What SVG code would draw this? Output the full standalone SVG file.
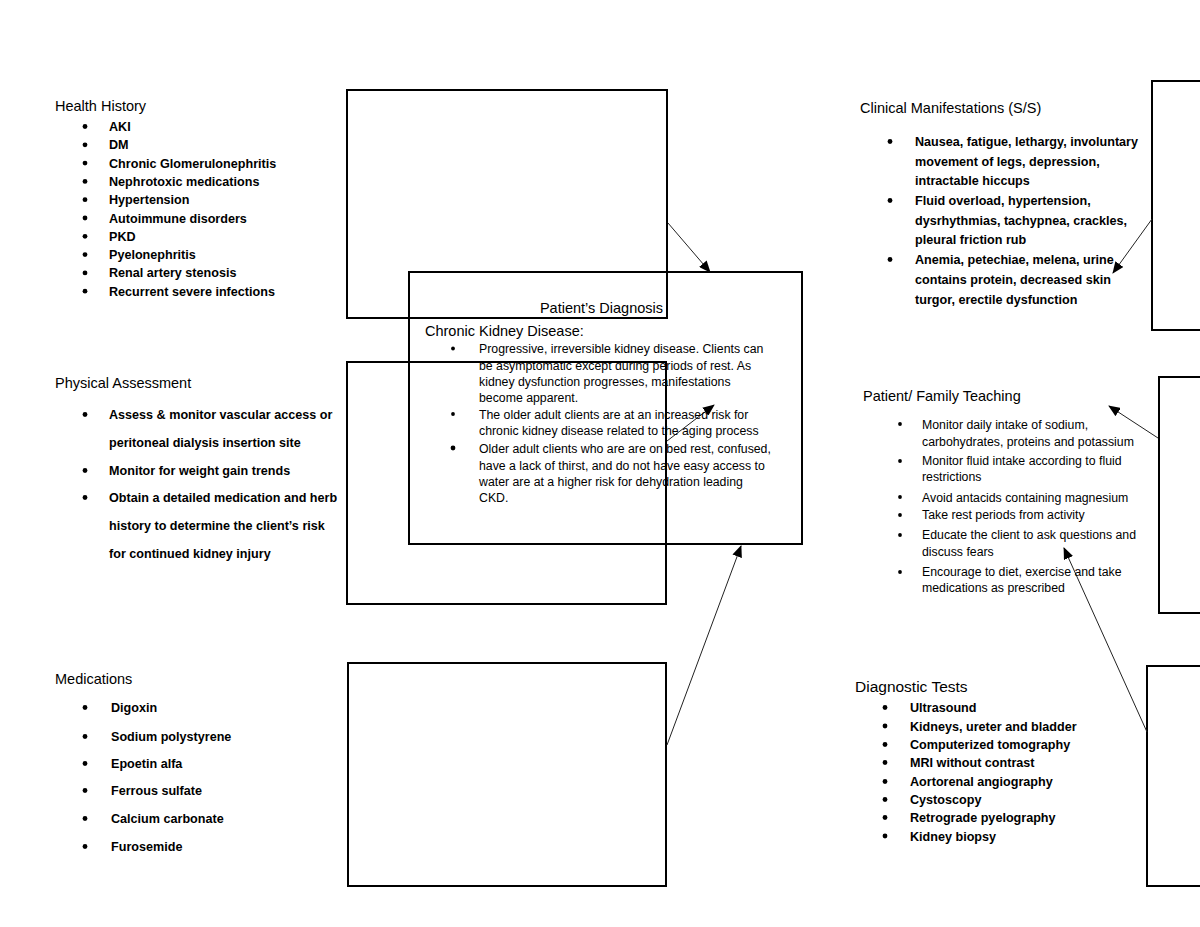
<svg xmlns="http://www.w3.org/2000/svg" width="1200" height="927" viewBox="0 0 1200 927">
<style>
text{font-family:"Liberation Sans",Arial,sans-serif;fill:#000}
.h{font-size:14.5px}
.b{font-size:12.6px;font-weight:bold}
.r{font-size:12.3px}
.box{fill:none;stroke:#000;stroke-width:2}
.con{fill:none;stroke:#222;stroke-width:1}
.bul{fill:#000}
</style>
<defs>
<marker id="ah" markerWidth="12" markerHeight="10" refX="11" refY="5" orient="auto" markerUnits="userSpaceOnUse">
<path d="M0,0 L12,5 L0,10 Z" fill="#000"/>
</marker>
</defs>
<rect width="1200" height="927" fill="#fff"/>

<g id="boxes">
<rect id="box-history" class="box" x="347" y="90" width="320" height="228"/>
<rect id="box-physical" class="box" x="347" y="362" width="319" height="242"/>
<rect id="box-meds" class="box" x="348" y="663" width="318" height="223"/>
<rect id="box-diagnosis" class="box" x="409" y="272" width="393" height="272"/>
<rect id="box-clinical" class="box" x="1152" y="81" width="60" height="249"/>
<rect id="box-teaching" class="box" x="1159" y="377" width="60" height="236"/>
<rect id="box-tests" class="box" x="1147" y="666" width="60" height="220"/>
</g>

<g id="connectors">
<line class="con" x1="668" y1="223" x2="710" y2="272" marker-end="url(#ah)"/>
<line class="con" x1="667" y1="745" x2="741" y2="546" marker-end="url(#ah)"/>
<line class="con" x1="667" y1="441" x2="714" y2="405" marker-end="url(#ah)"/>
<line class="con" x1="1152" y1="219" x2="1113" y2="273" marker-end="url(#ah)"/>
<line class="con" x1="1158" y1="438" x2="1109" y2="406" marker-end="url(#ah)"/>
<line class="con" x1="1147" y1="732" x2="1064" y2="548" marker-end="url(#ah)"/>
</g>

<g id="health-history">
<text class="h" x="55" y="111">Health History</text>
<g class="bul">
<circle cx="85" cy="126.5" r="2.4"/><circle cx="85" cy="144.8" r="2.4"/><circle cx="85" cy="163.1" r="2.4"/><circle cx="85" cy="181.4" r="2.4"/><circle cx="85" cy="199.7" r="2.4"/><circle cx="85" cy="218" r="2.4"/><circle cx="85" cy="236.3" r="2.4"/><circle cx="85" cy="254.6" r="2.4"/><circle cx="85" cy="272.9" r="2.4"/><circle cx="85" cy="291.2" r="2.4"/>
</g>
<text class="b" x="109" y="131">AKI</text>
<text class="b" x="109" y="149.3">DM</text>
<text class="b" x="109" y="167.6">Chronic Glomerulonephritis</text>
<text class="b" x="109" y="185.9">Nephrotoxic medications</text>
<text class="b" x="109" y="204.2">Hypertension</text>
<text class="b" x="109" y="222.5">Autoimmune disorders</text>
<text class="b" x="109" y="240.8">PKD</text>
<text class="b" x="109" y="259.1">Pyelonephritis</text>
<text class="b" x="109" y="277.4">Renal artery stenosis</text>
<text class="b" x="109" y="295.7">Recurrent severe infections</text>
</g>

<g id="physical-assessment">
<text class="h" x="55" y="388">Physical Assessment</text>
<g class="bul"><circle cx="85" cy="414.5" r="2.4"/><circle cx="85" cy="470.5" r="2.4"/><circle cx="85" cy="497.5" r="2.4"/></g>
<text class="b" x="109" y="419">Assess &amp; monitor vascular access or</text>
<text class="b" x="109" y="447">peritoneal dialysis insertion site</text>
<text class="b" x="109" y="475">Monitor for weight gain trends</text>
<text class="b" x="109" y="502">Obtain a detailed medication and herb</text>
<text class="b" x="109" y="530">history to determine the client’s risk</text>
<text class="b" x="109" y="558">for continued kidney injury</text>
</g>

<g id="medications">
<text class="h" x="55" y="684">Medications</text>
<g class="bul"><circle cx="85" cy="707.5" r="2.4"/><circle cx="85" cy="736.5" r="2.4"/><circle cx="85" cy="763.5" r="2.4"/><circle cx="85" cy="790.5" r="2.4"/><circle cx="85" cy="818.5" r="2.4"/><circle cx="85" cy="846.5" r="2.4"/></g>
<text class="b" x="111" y="712">Digoxin</text>
<text class="b" x="111" y="741">Sodium polystyrene</text>
<text class="b" x="111" y="768">Epoetin alfa</text>
<text class="b" x="111" y="795">Ferrous sulfate</text>
<text class="b" x="111" y="823">Calcium carbonate</text>
<text class="b" x="111" y="851">Furosemide</text>
</g>

<g id="diagnosis">
<text class="h" x="663" y="313" text-anchor="end">Patient’s Diagnosis</text>
<text x="425" y="336" style="font-size:14.5px">Chronic Kidney Disease:</text>
<g class="bul"><circle cx="453" cy="348.5" r="1.9"/><circle cx="453" cy="414" r="1.9"/><circle cx="453" cy="448" r="2.4"/></g>
<text class="r" x="479" y="353">Progressive, irreversible kidney disease. Clients can</text>
<text class="r" x="479" y="369.5">be asymptomatic except during periods of rest. As</text>
<text class="r" x="479" y="386">kidney dysfunction progresses, manifestations</text>
<text class="r" x="479" y="401.5">become apparent.</text>
<text class="r" x="479" y="418.5">The older adult clients are at an increased risk for</text>
<text class="r" x="479" y="435">chronic kidney disease related to the aging process</text>
<text class="r" x="479" y="452.5">Older adult clients who are are on bed rest, confused,</text>
<text class="r" x="479" y="469.5">have a lack of thirst, and do not have easy access to</text>
<text class="r" x="479" y="486">water are at a higher risk for dehydration leading</text>
<text class="r" x="479" y="502">CKD.</text>
</g>

<g id="clinical-manifestations">
<text class="h" x="860" y="113">Clinical Manifestations (S/S)</text>
<g class="bul"><circle cx="890" cy="141.5" r="2.4"/><circle cx="890" cy="200.5" r="2.4"/><circle cx="890" cy="259.5" r="2.4"/></g>
<text class="b" x="915" y="146">Nausea, fatigue, lethargy, involuntary</text>
<text class="b" x="915" y="165.5">movement of legs, depression,</text>
<text class="b" x="915" y="185">intractable hiccups</text>
<text class="b" x="915" y="205">Fluid overload, hypertension,</text>
<text class="b" x="915" y="224.5">dysrhythmias, tachypnea, crackles,</text>
<text class="b" x="915" y="244">pleural friction rub</text>
<text class="b" x="915" y="264">Anemia, petechiae, melena, urine</text>
<text class="b" x="915" y="284">contains protein, decreased skin</text>
<text class="b" x="915" y="304">turgor, erectile dysfunction</text>
</g>

<g id="teaching">
<text class="h" x="863" y="401">Patient/ Family Teaching</text>
<g class="bul"><circle cx="900" cy="424" r="1.9"/><circle cx="900" cy="461" r="1.9"/><circle cx="900" cy="497" r="1.9"/><circle cx="900" cy="515" r="1.9"/><circle cx="900" cy="535" r="1.9"/><circle cx="900" cy="572" r="1.9"/></g>
<text class="r" x="922" y="428.5">Monitor daily intake of sodium,</text>
<text class="r" x="922" y="445.5">carbohydrates, proteins and potassium</text>
<text class="r" x="922" y="465">Monitor fluid intake according to fluid</text>
<text class="r" x="922" y="481">restrictions</text>
<text class="r" x="922" y="501.5">Avoid antacids containing magnesium</text>
<text class="r" x="922" y="519">Take rest periods from activity</text>
<text class="r" x="922" y="539">Educate the client to ask questions and</text>
<text class="r" x="922" y="555.5">discuss fears</text>
<text class="r" x="922" y="576">Encourage to diet, exercise and take</text>
<text class="r" x="922" y="592">medications as prescribed</text>
</g>

<g id="diagnostic-tests">
<text x="855" y="692" style="font-size:15.5px">Diagnostic Tests</text>
<g class="bul"><circle cx="885" cy="707.5" r="2.4"/><circle cx="885" cy="726" r="2.4"/><circle cx="885" cy="744.5" r="2.4"/><circle cx="885" cy="762.5" r="2.4"/><circle cx="885" cy="781.5" r="2.4"/><circle cx="885" cy="799.5" r="2.4"/><circle cx="885" cy="817.5" r="2.4"/><circle cx="885" cy="836" r="2.4"/></g>
<text class="b" x="910" y="712">Ultrasound</text>
<text class="b" x="910" y="730.5">Kidneys, ureter and bladder</text>
<text class="b" x="910" y="749">Computerized tomography</text>
<text class="b" x="910" y="767">MRI without contrast</text>
<text class="b" x="910" y="786">Aortorenal angiography</text>
<text class="b" x="910" y="804">Cystoscopy</text>
<text class="b" x="910" y="822">Retrograde pyelography</text>
<text class="b" x="910" y="840.5">Kidney biopsy</text>
</g>
</svg>
